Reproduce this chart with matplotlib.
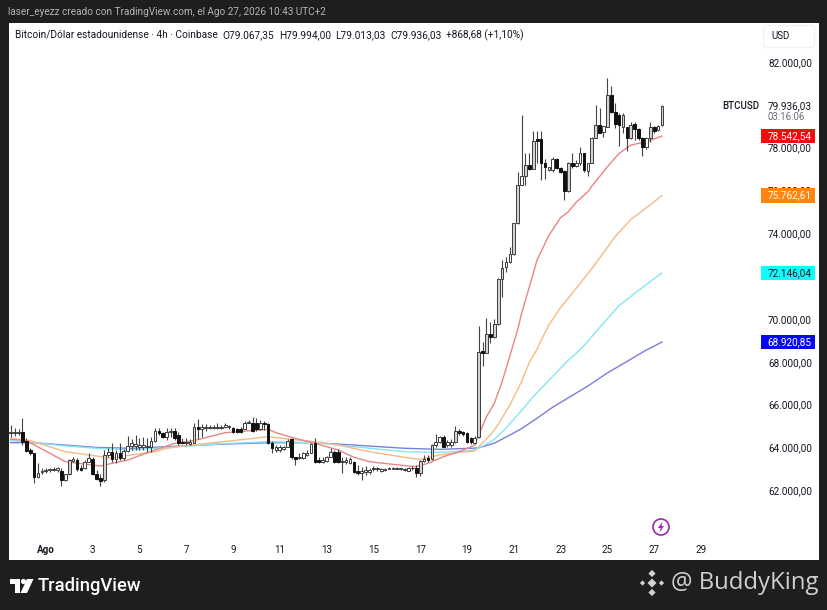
import matplotlib
matplotlib.use('Agg')
import matplotlib.pyplot as plt
from matplotlib.patches import Rectangle, Circle, Polygon, FancyBboxPatch
from matplotlib.transforms import blended_transform_factory

plt.rcParams['font.family'] = ['Roboto', 'DejaVu Sans']

# 4h candles
opens = [
    64660, 64660, 64690, 64740, 64320, 63880, 63755, 62600, 62870, 62900,
    62930, 62950, 62950, 62910, 62480, 62760, 63380, 63410, 63020, 63020,
    63330, 63475, 62760, 62560, 62480, 63650, 63800, 63440, 63720, 63490,
    63850, 64070, 64070, 64040, 64040, 64000, 64000, 64320, 64780, 64660,
    64500, 64740, 64780, 64580, 64270, 64190, 64160, 64190, 64940, 64880,
    64890, 64910, 64920, 64910, 64920, 64970, 64940, 64890, 64850, 64850,
    64850, 65160, 65160, 65130, 64850, 65160, 65090, 64220, 63880, 63880,
    63930, 64040, 64380, 63540, 63490, 63490, 63650, 63755, 64190, 63410,
    63330, 63370, 63570, 63800, 63800, 63300, 63300, 63290, 63330, 62910,
    62820, 62850, 62870, 62980, 62980, 62910, 62950, 63010, 63010, 63010,
    62990, 62950, 62910, 63050, 63020, 62820, 63380, 63490, 63440, 64110,
    64270, 64470, 64110, 64110, 64270, 64780, 64740, 64690, 64460, 64190,
    64469, 68520, 68420, 69280, 69140, 69760, 71850, 72440, 72640, 73020,
    74480, 76255, 76675, 77190, 77000, 78390, 78390, 77270, 76955, 76955,
    77450, 77030, 76910, 75990, 77270, 77140, 77300, 77730, 76910, 77300,
    78430, 79055, 78745, 78980, 80460, 79680, 79525, 78980, 78950, 78430,
    79100, 78855, 78430, 78010, 78430, 78980, 78820, 79067.35,
]
closes = [
    64720, 64705, 64740, 64270, 63850, 63755, 62600, 62820, 62910, 62950,
    62980, 62990, 63020, 62480, 62760, 63410, 63440, 62980, 62950, 63330,
    63490, 62760, 62510, 62450, 63650, 63800, 63440, 63720, 63490, 63850,
    64070, 64190, 64140, 64110, 64110, 64070, 64320, 64780, 64690, 64500,
    64740, 64780, 64420, 64190, 64190, 64270, 64270, 64940, 64850, 64940,
    64970, 64970, 64970, 64970, 64970, 65050, 65000, 64720, 64720, 64720,
    65160, 65200, 64780, 64850, 65160, 65090, 64190, 63960, 64000, 64040,
    64040, 64320, 63540, 63460, 63540, 63755, 63755, 64160, 63330, 63300,
    63410, 63570, 63800, 63330, 63300, 63380, 63410, 63440, 62870, 62820,
    62910, 62950, 62950, 63020, 63010, 62990, 62990, 63040, 63040, 63040,
    63020, 63010, 63040, 63020, 62820, 63380, 63440, 63410, 64110, 64270,
    64470, 64040, 64270, 64270, 64780, 64690, 64630, 64270, 64240, 64460,
    68471, 68420, 69280, 69170, 69760, 71850, 72400, 72640, 73020, 74465,
    76260, 76675, 77190, 77000, 78325, 78325, 77270, 77080, 77080, 77450,
    77030, 76880, 75990, 77270, 77140, 77300, 77730, 76955, 77270, 78430,
    79055, 78700, 79010, 80460, 79680, 79100, 79055, 79525, 78430, 79055,
    78855, 78430, 78010, 78430, 78980, 78790, 79025, 79936.03,
]
highs = [
    65050, 64890, 64845, 65360, 64420, 63990, 63755, 63260, 63020, 63020,
    63020, 63070, 63100, 63020, 62760, 63440, 63570, 63490, 63180, 63410,
    63720, 63570, 62950, 62760, 63880, 63960, 64190, 63880, 64190, 63910,
    64530, 64380, 64580, 64420, 64470, 64420, 64470, 64890, 64890, 64740,
    64890, 64890, 64890, 64740, 64420, 64420, 64380, 65160, 65310, 65090,
    65090, 65050, 65050, 65120, 65050, 65120, 65060, 64970, 64920, 64970,
    65250, 65280, 65440, 65360, 65280, 65250, 65160, 64300, 64110, 64110,
    64070, 64380, 64420, 63570, 63720, 63800, 63880, 64220, 64420, 63540,
    63540, 63600, 63960, 63880, 63910, 63570, 63570, 63570, 63380, 63180,
    63100, 63130, 63020, 63130, 63070, 63020, 63040, 63070, 63070, 63070,
    63050, 63050, 63100, 63130, 63180, 63410, 63650, 63650, 64160, 64610,
    64530, 64580, 64350, 64380, 65000, 64850, 64780, 64740, 64500, 64530,
    69670, 68940, 70030, 69870, 69980, 71900, 72750, 72910, 73375, 74465,
    76860, 79520, 77730, 77730, 78775, 78790, 78790, 77450, 77110, 77550,
    77500, 77110, 76955, 77340, 77730, 77420, 78040, 77760, 77270, 78510,
    79990, 79865, 79010, 81240, 80890, 80070, 79600, 79600, 78980, 79210,
    79210, 78900, 78510, 78510, 79180, 79010, 79055, 79994.00,
]
lows = [
    64500, 64530, 64580, 64110, 63800, 63650, 62350, 62560, 62760, 62790,
    62850, 62880, 62870, 62200, 62450, 62730, 63330, 62910, 62910, 62990,
    63300, 62710, 62480, 62200, 62400, 63570, 63330, 63260, 63410, 63410,
    63800, 63880, 63880, 63880, 63880, 63800, 63800, 64270, 64580, 64420,
    64350, 64470, 64350, 64110, 64140, 64110, 64110, 64190, 64380, 64470,
    64780, 64850, 64880, 64880, 64880, 64890, 64880, 64690, 64690, 64690,
    64850, 65130, 64740, 64780, 64810, 64810, 64160, 63750, 63800, 63800,
    63880, 64000, 63440, 63180, 63440, 63440, 63600, 63720, 63260, 63260,
    63260, 63330, 63540, 63290, 63260, 62790, 63230, 63230, 62820, 62710,
    62480, 62710, 62760, 62910, 62910, 62850, 62900, 62980, 62980, 62980,
    62960, 62880, 62880, 62950, 62600, 62670, 63330, 63330, 63410, 64040,
    64190, 64000, 64040, 64040, 64220, 64580, 64530, 64220, 64160, 64160,
    64423, 67800, 68390, 68860, 69090, 69720, 71040, 72210, 72600, 72990,
    74450, 76255, 76255, 76955, 76986, 77270, 76490, 76520, 76925, 76880,
    77000, 76800, 75550, 75940, 77030, 77110, 77190, 76880, 76675, 77270,
    78430, 78670, 78510, 78950, 79600, 78900, 78075, 78670, 77860, 78390,
    78355, 78355, 77610, 77920, 78280, 78670, 78790, 79013.03,
]

# moving averages, read at the candle numbers next to them
red_idx = [0, 4, 14, 23, 26, 30, 37, 42, 47, 55, 66, 68, 72, 78, 84, 88, 92, 97, 104, 107, 111, 115, 119,
           120, 122, 124, 126, 128, 130, 131, 133, 135, 138, 141, 143, 145, 148, 149, 151, 153, 156, 159, 163, 167]
red_ma = [64380, 64320, 63335, 63130, 63260, 63410, 63880, 64190, 64320, 64690, 64845, 64690, 64470,
          64190, 63880, 63540, 63335, 63230, 63100, 63260, 63570, 63800, 64110,
          64580, 65436, 66060, 67070, 68280, 69500, 70261, 71507, 72770, 73900, 74730, 75010, 75450,
          75944, 76200, 76650, 77110, 77730, 78120, 78280, 78542.54]
orange_idx = [0, 5, 14, 22, 26, 31, 37, 40, 43, 53, 66, 72, 78, 84, 92, 101, 105, 110, 115, 119,
              120, 123, 125, 128, 131, 133, 135, 136, 138, 141, 145, 149, 153, 155, 159, 161, 164, 167]
orange_ma = [64424, 64320, 63800, 63600, 63490, 63650, 63800, 63960, 64035, 64240, 64500, 64380,
             64270, 64110, 63800, 63540, 63440, 63650, 63770, 63830,
             64035, 64580, 65080, 65980, 67080, 67980, 68600, 69000, 69720, 70530, 71430, 72350,
             73340, 73850, 74650, 74920, 75330, 75762.61]
cyan_idx = [0, 6, 14, 22, 31, 40, 53, 66, 78, 88, 101, 110, 118,
            120, 124, 127, 131, 134, 138, 141, 143, 145, 147, 151, 156, 160, 164, 167]
cyan_ma = [64316, 64220, 64070, 63960, 63880, 63990, 64160, 64270, 64220, 64035, 63800, 63770, 63850,
           63960, 64370, 64900, 65730, 66370, 67140, 67700, 68080, 68400, 68750, 69600, 70620, 71200,
           71750, 72146.04]
blue_idx = [0, 6, 14, 22, 31, 40, 53, 66, 78, 88, 101, 110, 118,
            120, 124, 127, 131, 135, 139, 143, 148, 153, 159, 163, 167]
blue_ma = [64220, 64220, 64110, 64000, 63960, 64035, 64145, 64220, 64220, 64110, 63960, 63910, 63960,
           63980, 64200, 64480, 64880, 65370, 65880, 66320, 66870, 67480, 68120, 68550, 68920.85]

y_ticks = [62000, 64000, 66000, 68000, 70000, 74000, 76000, 78000, 82000]
x_days = [1, 3, 5, 7, 9, 11, 13, 15, 17, 19, 21, 23, 25, 27, 29]
x_labels = ['Ago', '3', '5', '7', '9', '11', '13', '15', '17', '19', '21', '23', '25', '27', '29']

BG = '#1e1e1e'
INK = '#131722'


def price_str(v):
    return f'{v:,.2f}'.replace(',', '#').replace('.', ',').replace('#', '.')


fig = plt.figure(figsize=(8.28, 6.10), dpi=100, facecolor=BG)
ax = fig.add_axes([9 / 828, 50 / 610, 810 / 828, 537 / 610], facecolor='white')
ax.set_xlim(-0.44, 207.26)
ax.set_ylim(58743, 83821)
for s in ax.spines.values():
    s.set_visible(False)

# moving averages under the candles
ax.plot(blue_idx, blue_ma, color='#7c7cdc', lw=1.0, zorder=2)
ax.plot(cyan_idx, cyan_ma, color='#84e6f2', lw=1.0, zorder=2)
ax.plot(orange_idx, orange_ma, color='#f4bb85', lw=1.0, zorder=2)
ax.plot(red_idx, red_ma, color='#e88585', lw=1.0, zorder=2)

# candles
xs = list(range(len(opens)))
ax.vlines(xs, lows, highs, color='#444444', lw=0.8, zorder=3)
for i in xs:
    up = closes[i] >= opens[i]
    bottom = min(opens[i], closes[i])
    height = max(abs(closes[i] - opens[i]), 40)
    # long narrow up candles come out grey in the reference
    face = ('#d4d4d4' if height > 500 else 'white') if up else '#111111'
    ax.bar(i, height, bottom=bottom, width=0.68, color=face,
           edgecolor='#3c3c3c' if up else '#111111', linewidth=0.7, zorder=4)

# axis labels sit inside the panel, TradingView style
last = len(opens) - 1
ax.set_xticks([last - 158 + (d - 1) * 6 for d in x_days])
ax.set_xticklabels(x_labels)
ax.get_xticklabels()[0].set_fontweight('bold')
ax.tick_params(axis='x', length=0, direction='in', pad=-10.7, labelsize=7, labelcolor=INK)
ax.yaxis.tick_right()
ax.set_yticks(y_ticks)
ax.set_yticklabels([price_str(v) for v in y_ticks])
ax.tick_params(axis='y', length=0, direction='in', pad=-36.7, labelsize=7.2, labelcolor=INK)

# price tags on the scale
tr = blended_transform_factory(ax.transAxes, ax.transData)
tags = [(red_ma[-1], '#f50a0a'), (orange_ma[-1], '#ff8510'), (cyan_ma[-1], '#0ffcfc'), (blue_ma[-1], '#0808ee')]
tag_text = ['white', 'white', '#131722', 'white']
for (val, col), tc in zip(tags, tag_text):
    ax.add_patch(Rectangle((752 / 810, val - 330), 54.5 / 810, 660, transform=tr, facecolor=col,
                           edgecolor='none', zorder=6, clip_on=False))
    ax.text(758.7 / 810, val, price_str(val), transform=tr, color=tc, fontsize=7.2, va='center', ha='left', zorder=7)

ax.text(713 / 810, closes[-1], 'BTCUSD', transform=tr, fontsize=7, color=INK, va='center', ha='left', fontweight='medium')
ax.text(758.7 / 810, closes[-1], price_str(closes[-1]), transform=tr, fontsize=7.2, color=INK, va='center', ha='left')
ax.text(758.7 / 810, closes[-1] - 520, '03:16:06', transform=tr, fontsize=6.9, color='#6a6d78', va='center', ha='left')

# overlay in picture pixels for header, footer and logos
ov = fig.add_axes([0, 0, 1, 1], facecolor='none')
ov.set_xlim(0, 828)
ov.set_ylim(610, 0)
ov.axis('off')

ov.text(8, 12, 'laser_eyezz creado con TradingView.com, el Ago 27, 2026 10:43 UTC+2',
        color='#b4b4b4', fontsize=7.2, va='center', ha='left')
ov.text(15, 35, 'Bitcoin/Dólar estadounidense · 4h · Coinbase', color=INK, fontsize=7.3, va='center', ha='left')
ov.text(222, 35, f'O{price_str(opens[-1])}', color=INK, fontsize=7.3, va='center', ha='left')
ov.text(279, 35, f'H{price_str(highs[-1])}', color=INK, fontsize=7.3, va='center', ha='left')
ov.text(335, 35, f'L{price_str(lows[-1])}', color=INK, fontsize=7.3, va='center', ha='left')
ov.text(390, 35, f'C{price_str(closes[-1])}', color=INK, fontsize=7.3, va='center', ha='left')
ov.text(446, 35, '+868,68 (+1,10%)', color=INK, fontsize=7.3, va='center', ha='left')

ov.add_patch(FancyBboxPatch((765, 27), 48, 19, boxstyle='round,pad=1.5,rounding_size=3',
                            facecolor='white', edgecolor='#f0f0f0', lw=0.8))
ov.text(771, 36, 'USD', color=INK, fontsize=7, va='center', ha='left')

# lightning marker
ov.add_patch(Circle((661, 527), 8, facecolor='white', edgecolor='#9c27b0', lw=1.2))
ov.add_patch(Polygon([(662.5, 521.5), (658, 528), (660.6, 528), (659.5, 532.5), (664, 526), (661.4, 526)],
                     facecolor='#9c27b0', edgecolor='none'))

# TradingView logo + name
ov.add_patch(Polygon([(10, 579), (20, 579), (20, 593), (15, 593), (15, 584), (10, 584)], facecolor='white', edgecolor='none'))
ov.add_patch(Circle((23.5, 581.5), 2.6, facecolor='white', edgecolor='none'))
ov.add_patch(Polygon([(27, 579), (33.5, 579), (27, 593), (20.5, 593)], facecolor='white', edgecolor='none'))
ov.text(38, 586, 'TradingView', color='white', fontsize=13.2, fontweight='medium', va='center', ha='left')

# watermark
for cx, cy, r in [(652, 573.5, 3.6), (642.5, 583, 2.6), (661.5, 583, 2.6), (652, 592.5, 3.6)]:
    ov.add_patch(Polygon([(cx, cy - r), (cx + r, cy), (cx, cy + r), (cx - r, cy)], facecolor='#d2d2d2', edgecolor='none'))
ov.add_patch(Polygon([(652, 578.5), (656.5, 583), (652, 587.5), (647.5, 583)], facecolor='#d2d2d2', edgecolor='none'))
ov.text(671, 583, '@ BuddyKing', color='#cfcfcf', fontsize=17.2, va='center', ha='left', family=['Open Sans', 'DejaVu Sans'])

fig.savefig('out.png', dpi=100, facecolor=BG)
plt.close(fig)
